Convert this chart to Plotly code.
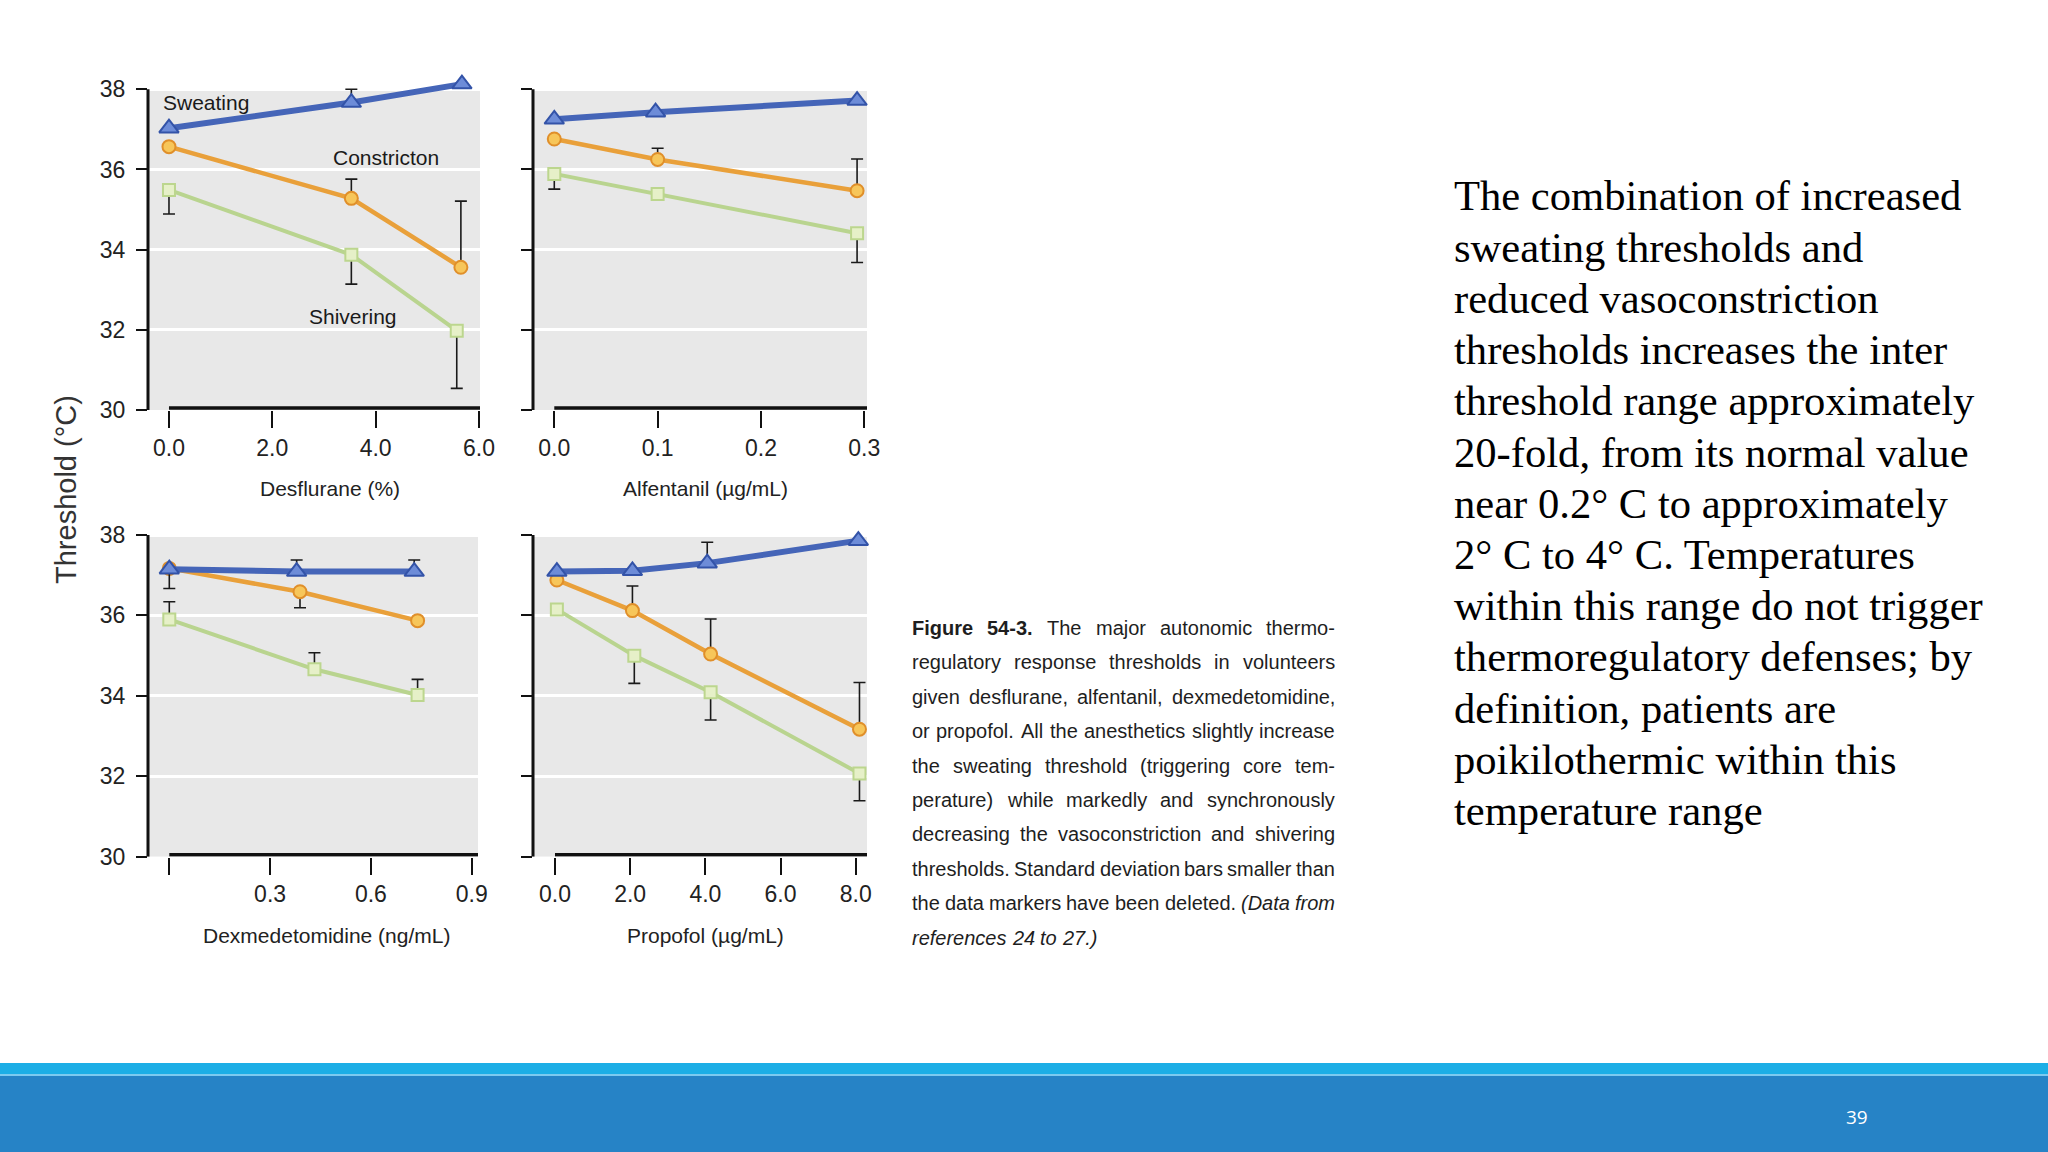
import plotly.graph_objects as go

W, H = 2048, 1152

# ---------------- data ----------------
# Panel 1: Desflurane (%)
des_sw_x = [0.0, 3.53, 5.67]
des_sw_y = [37.03, 37.67, 38.13]
des_sw_up = [0, 0.33, 0]
des_sw_dn = [0, 0, 0]
des_vc_x = [0.0, 3.53, 5.65]
des_vc_y = [36.57, 35.28, 33.56]
des_vc_up = [0, 0.48, 1.65]
des_vc_dn = [0, 0, 0]
des_sh_x = [0.0, 3.53, 5.57]
des_sh_y = [35.49, 33.87, 31.98]
des_sh_up = [0, 0, 0]
des_sh_dn = [0.60, 0.73, 1.44]

# Panel 2: Alfentanil (µg/mL)
alf_sw_x = [0.0, 0.098, 0.293]
alf_sw_y = [37.25, 37.43, 37.72]
alf_sw_up = [0, 0, 0]
alf_sw_dn = [0, 0, 0]
alf_vc_x = [0.0, 0.10, 0.293]
alf_vc_y = [36.76, 36.25, 35.47]
alf_vc_up = [0, 0.28, 0.79]
alf_vc_dn = [0, 0, 0]
alf_sh_x = [0.0, 0.10, 0.293]
alf_sh_y = [35.89, 35.39, 34.41]
alf_sh_up = [0, 0, 0]
alf_sh_dn = [0.38, 0, 0.73]

# Panel 3: Dexmedetomidine (ng/mL)
dex_sw_x = [0.0, 0.379, 0.729]
dex_sw_y = [37.15, 37.09, 37.09]
dex_sw_up = [0, 0.29, 0.29]
dex_sw_dn = [0.48, 0, 0]
dex_vc_x = [0.0, 0.389, 0.739]
dex_vc_y = [37.17, 36.59, 35.87]
dex_vc_up = [0, 0, 0]
dex_vc_dn = [0, 0.40, 0]
dex_sh_x = [0.0, 0.432, 0.739]
dex_sh_y = [35.90, 34.66, 34.02]
dex_sh_up = [0.44, 0.41, 0.39]
dex_sh_dn = [0, 0, 0]

# Panel 4: Propofol (µg/mL)
pro_sw_x = [0.05, 2.06, 4.05, 8.07]
pro_sw_y = [37.09, 37.11, 37.30, 37.86]
pro_sw_up = [0, 0, 0.52, 0]
pro_sw_dn = [0, 0, 0, 0]
pro_vc_x = [0.05, 2.06, 4.14, 8.10]
pro_vc_y = [36.88, 36.12, 35.04, 33.17]
pro_vc_up = [0, 0.61, 0.87, 1.16]
pro_vc_dn = [0, 0, 0, 0]
pro_sh_x = [0.05, 2.11, 4.14, 8.10]
pro_sh_y = [36.15, 35.00, 34.09, 32.07]
pro_sh_up = [0, 0, 0, 0]
pro_sh_dn = [0, 0.69, 0.69, 0.68]

y_ticks = [30, 32, 34, 36, 38]
y_ticktext = ["30", "32", "34", "36", "38"]
des_ticks = [0, 2, 4, 6]
des_ticktext = ["0.0", "2.0", "4.0", "6.0"]
alf_ticks = [0, 0.1, 0.2, 0.3]
alf_ticktext = ["0.0", "0.1", "0.2", "0.3"]
dex_ticks = [0, 0.3, 0.6, 0.9]
dex_ticktext = ["", "0.3", "0.6", "0.9"]
pro_ticks = [0, 2, 4, 6, 8]
pro_ticktext = ["0.0", "2.0", "4.0", "6.0", "8.0"]

x_titles = ["Desflurane (%)", "Alfentanil (µg/mL)", "Dexmedetomidine (ng/mL)", "Propofol (µg/mL)"]
series_names = ["Sweating", "Constricton", "Shivering"]

# caption: each line is a list of (text, style) segments; r=regular, b=bold, i=italic
caption_lines = [
    [("Figure 54-3.", "b"), ("The major autonomic thermo-", "r")],
    [("regulatory response thresholds in volunteers", "r")],
    [("given desflurane, alfentanil, dexmedetomidine,", "r")],
    [("or propofol. All the anesthetics slightly increase", "r")],
    [("the sweating threshold (triggering core tem-", "r")],
    [("perature) while markedly and synchronously", "r")],
    [("decreasing the vasoconstriction and shivering", "r")],
    [("thresholds. Standard deviation bars smaller than", "r")],
    [("the data markers have been deleted.", "r"), ("(Data from", "i")],
    [("references 24 to 27.)", "i")],
]
body_lines = [
    "The combination of increased",
    "sweating thresholds and",
    "reduced vasoconstriction",
    "thresholds increases the inter",
    "threshold range approximately",
    "20-fold, from its normal value",
    "near 0.2° C to approximately",
    "2° C to 4° C. Temperatures",
    "within this range do not trigger",
    "thermoregulatory defenses; by",
    "definition, patients are",
    "poikilothermic within this",
    "temperature range",
]
page_number = "39"

# ---------------- styling ----------------
SANS = "Liberation Sans, Arial, sans-serif"
SERIF = "Liberation Serif, Times New Roman, serif"

def px(x):
    return x / W

def py(y):
    return 1 - y / H

# Arial / Liberation Sans advance widths (per 1000 em) for caption justification
_REG = {" ": 278, ",": 278, "-": 333, ".": 278, "(": 333, ")": 333, "0": 556, "1": 556, "2": 556,
        "3": 556, "4": 556, "5": 556, "6": 556, "7": 556, "8": 556, "9": 556,
        "A": 667, "D": 722, "F": 611, "S": 667, "T": 611,
        "a": 556, "b": 556, "c": 500, "d": 556, "e": 556, "f": 278, "g": 556, "h": 556, "i": 222,
        "j": 222, "k": 500, "l": 222, "m": 833, "n": 556, "o": 556, "p": 556, "q": 556, "r": 333,
        "s": 500, "t": 278, "u": 556, "v": 500, "w": 722, "x": 500, "y": 500, "z": 500}
_BOLD = {" ": 278, "-": 333, ".": 278, "F": 611, "i": 278, "g": 611, "u": 611, "r": 389, "e": 556,
         "3": 556, "4": 556, "5": 556}

def text_width(s, size, style):
    table = _BOLD if style == "b" else _REG
    return sum(table.get(ch, 556) for ch in s) * size / 1000.0

styles = {
    "sw": dict(line=dict(color="#4565b8", width=6),
               marker=dict(symbol="triangle-up", size=17, color="#6d8cd8",
                           line=dict(color="#3353a8", width=2))),
    "vc": dict(line=dict(color="#e9a03a", width=4.5),
               marker=dict(symbol="circle", size=13, color="#f7c65a",
                           line=dict(color="#e08f2a", width=2))),
    "sh": dict(line=dict(color="#b9d48f", width=4),
               marker=dict(symbol="square", size=12, color="#e6f0c8",
                           line=dict(color="#bcd68e", width=2))),
}

fig = go.Figure()

panels = [
    ("x", "y", [(des_sh_x, des_sh_y, des_sh_up, des_sh_dn, "sh"),
                (des_vc_x, des_vc_y, des_vc_up, des_vc_dn, "vc"),
                (des_sw_x, des_sw_y, des_sw_up, des_sw_dn, "sw")]),
    ("x2", "y2", [(alf_sh_x, alf_sh_y, alf_sh_up, alf_sh_dn, "sh"),
                  (alf_vc_x, alf_vc_y, alf_vc_up, alf_vc_dn, "vc"),
                  (alf_sw_x, alf_sw_y, alf_sw_up, alf_sw_dn, "sw")]),
    ("x3", "y3", [(dex_sh_x, dex_sh_y, dex_sh_up, dex_sh_dn, "sh"),
                  (dex_vc_x, dex_vc_y, dex_vc_up, dex_vc_dn, "vc"),
                  (dex_sw_x, dex_sw_y, dex_sw_up, dex_sw_dn, "sw")]),
    ("x4", "y4", [(pro_sh_x, pro_sh_y, pro_sh_up, pro_sh_dn, "sh"),
                  (pro_vc_x, pro_vc_y, pro_vc_up, pro_vc_dn, "vc"),
                  (pro_sw_x, pro_sw_y, pro_sw_up, pro_sw_dn, "sw")]),
]

for xa, ya, series in panels:
    for xs, ys, up, dn, key in series:
        st = styles[key]
        fig.add_trace(go.Scatter(
            x=xs, y=ys, xaxis=xa, yaxis=ya, mode="lines+markers",
            line=st["line"], marker=st["marker"], cliponaxis=False,
            showlegend=False, hoverinfo="skip",
            error_y=dict(type="data", symmetric=False, array=up, arrayminus=dn,
                         color="#1a1a1a", thickness=1.6, width=6),
        ))

# panel geometry (pixels): y of value 38 and of value 30
Y_TOP, Y_BOT = 38.0, 30.0
Y_EXTRA = 0.4                      # head-room above 38 so top markers are not clipped
top_y = (89.3, 410.0)
bot_y = (535.0, 856.7)
left_x = (148.0, 480.0)
right_x = (533.0, 867.0)

x_ranges = [(-0.406, 6.02), (-0.0206, 0.3026), (-0.0634, 0.9188), (-0.585, 8.30)]
x_domains = [left_x, right_x, (148.0, 478.0), right_x]
y_domains = [top_y, top_y, bot_y, bot_y]
x_tickvals = [des_ticks, alf_ticks, dex_ticks, pro_ticks]
x_ticktexts = [des_ticktext, alf_ticktext, dex_ticktext, pro_ticktext]

axis_font = dict(family=SANS, size=23, color="#222222")
layout_axes = {}
shapes = []
for i in range(4):
    sfx = "" if i == 0 else str(i + 1)
    xd = x_domains[i]
    y38, y30 = y_domains[i]
    ppu = (y30 - y38) / (Y_TOP - Y_BOT)
    ytop_px = y38 - Y_EXTRA * ppu
    layout_axes["xaxis" + sfx] = dict(
        domain=[px(xd[0]), px(xd[1])], range=list(x_ranges[i]),
        anchor="y" + sfx, showline=False, showgrid=False, zeroline=False,
        tickmode="array", tickvals=x_tickvals[i], ticktext=x_ticktexts[i],
        ticks="outside", ticklen=17, tickwidth=2, tickcolor="#111111",
        tickfont=axis_font, fixedrange=True, automargin=False,
    )
    layout_axes["yaxis" + sfx] = dict(
        domain=[py(y30), py(ytop_px)], range=[Y_BOT, Y_TOP + Y_EXTRA],
        anchor="x" + sfx, showline=False, zeroline=False,
        showgrid=True, gridcolor="#ffffff", gridwidth=3,
        tickmode="array", tickvals=y_ticks, ticktext=y_ticktext,
        ticks="outside", ticklen=11, tickwidth=2, tickcolor="#111111",
        showticklabels=(i in (0, 2)), tickfont=axis_font,
        ticklabelstandoff=6, fixedrange=True, automargin=False,
    )
    # grey plotting panel between 30 and 38
    shapes.append(dict(type="rect", xref="x" + sfx + " domain", yref="y" + sfx,
                       x0=0, x1=1, y0=Y_BOT, y1=Y_TOP, fillcolor="#e8e8e8",
                       line=dict(width=0), layer="below"))
    # y axis line 30..38
    shapes.append(dict(type="line", xref="x" + sfx + " domain", yref="y" + sfx,
                       x0=0, x1=0, y0=Y_BOT, y1=Y_TOP,
                       line=dict(color="#111111", width=3), layer="above"))
    # x axis base line from 0 to the end of the axis
    shapes.append(dict(type="line", xref="x" + sfx, yref="y" + sfx,
                       x0=0, x1=x_ranges[i][1], y0=Y_BOT + 0.05, y1=Y_BOT + 0.05,
                       line=dict(color="#111111", width=3.5), layer="above"))

# footer bands
shapes.append(dict(type="rect", xref="paper", yref="paper", x0=0, x1=1,
                   y0=py(1074), y1=py(1063), fillcolor="#1caee6", line=dict(width=0), layer="below"))
shapes.append(dict(type="rect", xref="paper", yref="paper", x0=0, x1=1,
                   y0=py(1076), y1=py(1074), fillcolor="#7ccaf0", line=dict(width=0), layer="below"))
shapes.append(dict(type="rect", xref="paper", yref="paper", x0=0, x1=1,
                   y0=0, y1=py(1076), fillcolor="#2683c6", line=dict(width=0), layer="below"))

annotations = []
# series labels in panel 1 (data coordinates)
label_pos = [(0.71, 37.66), (4.21, 36.29), (3.56, 32.32)]
for name, (lx, ly) in zip(series_names, label_pos):
    annotations.append(dict(text=name, x=lx, y=ly, xref="x", yref="y",
                            showarrow=False, font=dict(family=SANS, size=21, color="#1a1a1a"),
                            xanchor="center", yanchor="middle"))

# x axis titles
title_pos = [(330, 488), (705, 488), (326, 935), (705, 935)]
for t, (tx, ty) in zip(x_titles, title_pos):
    annotations.append(dict(text=t, x=px(tx), y=py(ty), xref="paper", yref="paper",
                            showarrow=False, font=dict(family=SANS, size=21, color="#222222"),
                            xanchor="center", yanchor="middle"))

# shared y title
annotations.append(dict(text="Threshold (°C)", x=px(66), y=py(490), xref="paper", yref="paper",
                        showarrow=False, textangle=-90,
                        font=dict(family=SANS, size=29, color="#333333"),
                        xanchor="center", yanchor="middle"))

# caption, justified word by word
CAP_L, CAP_R, CAP_SIZE = 910.0, 1333.0, 20
for k, segs in enumerate(caption_lines):
    words = []
    for txt, stl in segs:
        for w in txt.split(" "):
            if w:
                words.append((w, stl))
    widths = [text_width(w, CAP_SIZE, s) for w, s in words]
    last = (k == len(caption_lines) - 1)
    if last or len(words) == 1:
        gap = _REG[" "] * CAP_SIZE / 1000.0
    else:
        gap = (CAP_R - CAP_L - sum(widths)) / (len(words) - 1)
    xcur = CAP_L
    for (w, stl), wd in zip(words, widths):
        if stl == "b":
            t = "<b>" + w + "</b>"
        elif stl == "i":
            t = "<i>" + w + "</i>"
        else:
            t = w
        annotations.append(dict(text=t, x=px(xcur), y=py(628 + 34.4 * k), xref="paper", yref="paper",
                                showarrow=False, xanchor="left", yanchor="middle", align="left",
                                font=dict(family=SANS, size=CAP_SIZE, color="#1e1e1e")))
        xcur += wd + gap

# body text
for k, line in enumerate(body_lines):
    annotations.append(dict(text=line, x=px(1452), y=py(196 + 51.2 * k), xref="paper", yref="paper",
                            showarrow=False, xanchor="left", yanchor="middle", align="left",
                            font=dict(family=SERIF, size=42.6, color="#000000")))

# page number
annotations.append(dict(text=page_number, x=px(1857), y=py(1117), xref="paper", yref="paper",
                        showarrow=False, xanchor="center", yanchor="middle",
                        font=dict(family="Open Sans, Lato, sans-serif", size=19, color="#ffffff")))

fig.update_layout(
    template="none",
    width=W, height=H, autosize=False,
    margin=dict(l=0, r=0, t=0, b=0, pad=0, autoexpand=False),
    paper_bgcolor="#ffffff", plot_bgcolor="#ffffff",
    shapes=shapes, annotations=annotations,
    showlegend=False,
    **layout_axes,
)

fig.write_html(
    "out.html",
    config={"displayModeBar": False, "responsive": False},
    post_script="document.body.style.margin='0';document.body.style.overflow='hidden';"
                "document.documentElement.style.overflow='hidden';",
)
